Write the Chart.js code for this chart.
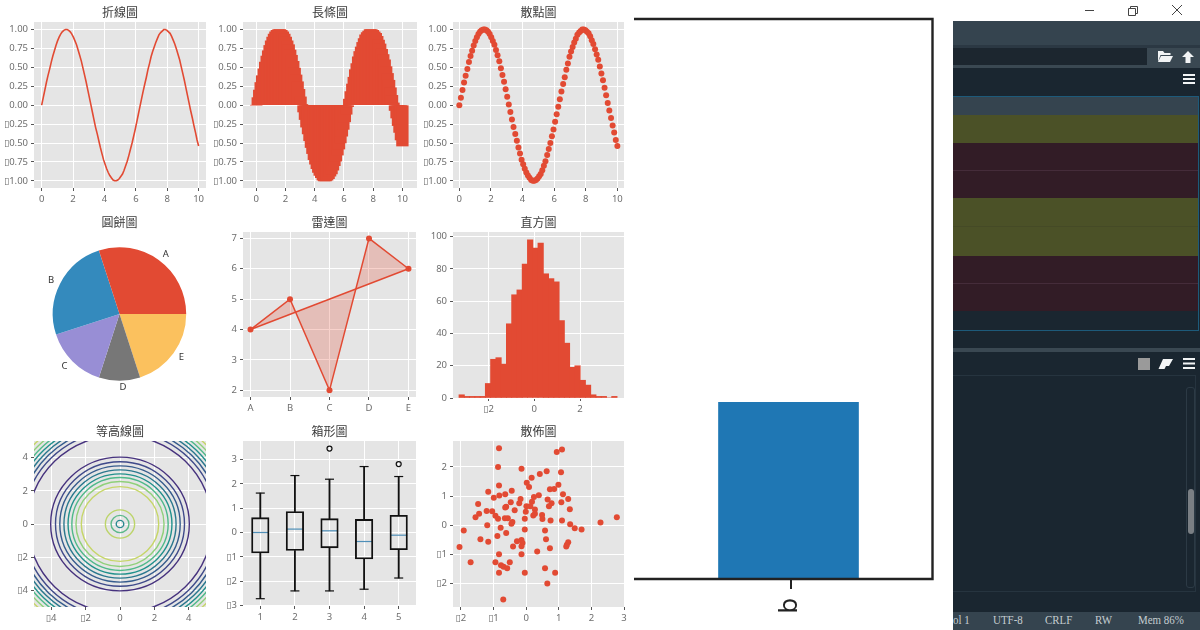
<!DOCTYPE html>
<html>
<head>
<meta charset="utf-8">
<title>matplotlib 圖表</title>
<script src="https://cdn.jsdelivr.net/npm/chart.js@4"></script>
<style>
html, body { margin: 0; padding: 0; background: #fff; overflow: hidden; }
#page { position: relative; width: 1200px; height: 630px; overflow: hidden; }
canvas { position: absolute; }
.r { position: absolute; }
.s { position: absolute; top: 612px; font: 13px "Liberation Serif", serif; color: #c4ccd0; white-space: nowrap; transform: scaleX(0.84); transform-origin: left center; }
svg { position: absolute; }
</style>
</head>
<body>
<div id="page">
  <!-- the editor window on the right -->
  <div class="r" style="left:953px;top:21px;width:247px;height:609px;background:#1a2630"></div>
  <div class="r" style="left:953px;top:21px;width:247px;height:24px;background:#35444f"></div>
  <div class="r" style="left:953px;top:45px;width:247px;height:3px;background:#2b3843"></div>
  <div class="r" style="left:953px;top:48px;width:194px;height:17px;background:#1c262f"></div>
  <div class="r" style="left:1147px;top:48px;width:53px;height:17px;background:#3a4852"></div>
  <div class="r" style="left:953px;top:65px;width:247px;height:3px;background:#3a4852"></div>
  <div class="r" style="left:953px;top:96px;width:246px;height:235px;border-right:1px solid #1d5a7a;border-top:1px solid #1d5a7a;border-bottom:1px solid #1d5a7a;box-sizing:border-box"></div>
  <div class="r" style="left:953px;top:97px;width:245px;height:18px;background:#35444f"></div>
  <div class="r" style="left:953px;top:115px;width:245px;height:28px;background:#4b5127"></div>
  <div class="r" style="left:953px;top:143px;width:245px;height:55px;background:#321c26"></div>
  <div class="r" style="left:953px;top:170px;width:245px;height:1px;background:#452c3a"></div>
  <div class="r" style="left:953px;top:198px;width:245px;height:58px;background:#4b5127"></div>
  <div class="r" style="left:953px;top:226px;width:245px;height:1px;background:#454a26"></div>
  <div class="r" style="left:953px;top:256px;width:245px;height:55px;background:#321c26"></div>
  <div class="r" style="left:953px;top:283px;width:245px;height:1px;background:#452c3a"></div>
  <div class="r" style="left:953px;top:348px;width:247px;height:4px;background:#3a4852"></div>
  <div class="r" style="left:953px;top:375px;width:243px;height:217px;border-top:1px solid #26343f;border-bottom:1px solid #26343f;border-right:1px solid #26343f;box-sizing:border-box"></div>
  <div class="r" style="left:1186px;top:387px;width:9px;height:201px;border:1px solid #2c3a45;border-radius:3px;box-sizing:border-box"></div>
  <div class="r" style="left:1188px;top:489px;width:6px;height:45px;background:#7a7f84;border-radius:3px"></div>
  <div class="r" style="left:1138px;top:358px;width:12px;height:12px;background:#9a9a9a"></div>
  <div class="r" style="left:953px;top:612px;width:247px;height:18px;background:#35444f"></div>
  <span class="s" style="left:953px">ol 1</span>
  <span class="s" style="left:993px">UTF-8</span>
  <span class="s" style="left:1045px">CRLF</span>
  <span class="s" style="left:1095px">RW</span>
  <span class="s" style="left:1138px">Mem 86%</span>
  <!-- window buttons and toolbar icons -->
  <svg width="1200" height="630" style="left:0;top:0">
    <g stroke="#444" stroke-width="1" fill="none">
      <path d="M1085 10.5H1094"/>
      <path d="M1128.5 8.5h7v7h-7z"/><path d="M1130.5 8.5v-2h7v7h-2"/>
      <path d="M1172 5l10 10M1182 5l-10 10"/>
    </g>
    <g fill="#f2f4f5">
      <path d="M1158 51h5l1.5 2h6v2h-10l-2.5 7z"/><path d="M1161 56h12l-3 6h-12z"/>
      <path d="M1188 51l6 6h-3.5v6h-5v-6h-3.500z"/>
      <path d="M1183 74h12v2h-12zM1183 78h12v2h-12zM1183 82h12v2h-12z"/>
      <path d="M1183 358h12v2h-12zM1183 362.500h12v2h-12zM1183 367h12v2h-12z"/>
      <path d="M1163 359h10l-4 7h-3l-1.500 3h-6z"/>
    </g>
  </svg>
</div>

<script>
// Sine panels
const sineX = [0,0.10,0.20,0.30,0.40,0.51,0.61,0.71,0.81,0.91,1.01,1.11,1.21,1.31,1.41,1.52,1.62,1.72,1.82,1.92,2.02,2.12,2.22,2.32,2.42,2.53,2.63,2.73,2.83,2.93,3.03,3.13,3.23,3.33,3.43,3.54,3.64,3.74,3.84,3.94,4.04,4.14,4.24,4.34,4.44,4.55,4.65,4.75,4.85,4.95,5.05,5.15,5.25,5.35,5.45,5.56,5.66,5.76,5.86,5.96,6.06,6.16,6.26,6.36,6.46,6.57,6.67,6.77,6.87,6.97,7.07,7.17,7.27,7.37,7.47,7.58,7.68,7.78,7.88,7.98,8.08,8.18,8.28,8.38,8.48,8.59,8.69,8.79,8.89,8.99,9.09,9.19,9.29,9.39,9.49,9.60,9.70,9.80,9.90,10];
const sineY = [0,0.10,0.20,0.30,0.39,0.48,0.57,0.65,0.72,0.79,0.85,0.90,0.94,0.97,0.99,1.00,1.00,0.99,0.97,0.94,0.90,0.85,0.80,0.73,0.66,0.58,0.49,0.40,0.31,0.21,0.11,0.01,-0.09,-0.19,-0.29,-0.38,-0.47,-0.56,-0.64,-0.72,-0.78,-0.84,-0.89,-0.93,-0.96,-0.99,-1.00,-1.00,-0.99,-0.97,-0.94,-0.91,-0.86,-0.80,-0.74,-0.66,-0.58,-0.50,-0.41,-0.32,-0.22,-0.12,-0.02,0.08,0.18,0.28,0.37,0.47,0.55,0.64,0.71,0.77,0.83,0.88,0.93,0.96,0.98,1.00,1.00,0.99,0.97,0.95,0.91,0.86,0.81,0.74,0.67,0.60,0.51,0.42,0.33,0.23,0.13,0.03,-0.07,-0.17,-0.27,-0.36,-0.46,-0.54];
const sineXTicks = [0,2,4,6,8,10];
const sineYTicks = [-1,-0.75,-0.5,-0.25,0,0.25,0.5,0.75,1];

// Pie, listed clockwise from the east
const pieLabels = ['E','D','C','B','A'];
const pieValues = [20,10,15,25,30];

// "Radar" panel
const radarLabels = ['A','B','C','D','E'];
const radarX = [0,1,2,3,4];
const radarY = [4,5,2,7,6];
const radarYTicks = [2,3,4,5,6,7];

// Histogram
const histCenters = [-3.17,-2.94,-2.71,-2.48,-2.25,-2.02,-1.79,-1.56,-1.33,-1.10,-0.87,-0.64,-0.41,-0.18,0.05,0.28,0.51,0.74,0.97,1.20,1.43,1.66,1.89,2.12,2.35,2.58,2.81,3.04,3.27,3.50];
const histCounts = [2,1,1,1,1,9,24,25,21,46,64,67,83,98,93,96,77,74,72,48,34,19,20,11,8,2,1,1,0,1];
const histXTicks = [-2,0,2];
const histYTicks = [0,20,40,60,80,100];

// Contour rings, radius of each ring on the x axis
const contourRadii = [0.22,0.52,0.85,2.25,2.56,2.8,3.02,3.26,3.5,3.75,4.03,5.36,5.64,5.87,6.08,6.28,6.48,6.69,6.92];
const contourXTicks = [-4,-2,0,2,4];

// Box plot
const boxX = [1,2,3,4,5];
const boxLow = [-2.72,-2.40,-2.40,-2.33,-1.87];
const boxQ1 = [-0.84,-0.74,-0.63,-1.09,-0.71];
const boxMedian = [0,0.14,0.07,-0.37,-0.11];
const boxQ3 = [0.61,0.86,0.57,0.54,0.71];
const boxHigh = [1.62,2.34,2.19,2.71,2.30];
const boxOutlierX = [3,5];
const boxOutlierY = [3.45,2.81];
const boxYTicks = [-3,-2,-1,0,1,2,3];

// Scatter
const scatterX = [-0.83,1.10,0.94,-0.86,-0.14,1.07,0.63,0.42,0.17,0.02,0.99,0.09,-0.83,0.73,0.86,-1.16,-0.44,1.13,1.29,-0.82,-0.64,0.39,0.24,-0.99,-0.17,1.08,0.66,0.18,-0.47,-0.21,-1.47,0.78,0.70,-0.61,-0.64,0.01,0.13,-1.21,-1.04,-0.35,0.27,1.34,-1.44,-0.01,-1.55,0.27,0.22,-0.94,-0.86,0.49,-0.65,-0.56,-0.04,0.50,-0.42,-0.45,0.75,1.10,-1.19,1.35,1.49,1.70,2.28,2.78,-0.78,-0.04,-1.91,0.58,-0.61,-0.88,-1.40,-1.16,0.61,-0.28,-0.14,-0.11,1.29,1.25,-0.14,-0.40,-2.04,0.73,1.23,0.34,-0.83,-0.14,-1.70,-0.94,-0.50,-0.77,-0.69,-0.58,0.58,-0.83,-0.04,0.89,0.65,-0.70];
const scatterY = [2.64,2.60,2.51,2.00,1.94,1.82,1.85,1.76,1.63,1.46,1.39,1.31,1.36,1.23,1.24,1.15,1.18,1.06,0.90,1.02,1.06,1.03,0.97,0.94,0.90,0.79,0.88,0.80,0.79,0.75,0.73,0.75,0.65,0.63,0.61,0.65,0.65,0.49,0.48,0.51,0.54,0.55,0.39,0.46,0.27,0.39,0.33,0.32,0.22,0.35,0.24,0.24,0.22,0.21,0.11,0.05,0.16,0.16,0,0.03,-0.11,-0.15,0.09,0.27,-0.09,-0.15,-0.18,-0.18,-0.27,-0.37,-0.48,-0.57,-0.48,-0.55,-0.51,-0.61,-0.59,-0.67,-0.72,-0.73,-0.75,-0.79,-0.73,-0.90,-1.00,-1.00,-1.27,-1.27,-1.27,-1.38,-1.43,-1.48,-1.48,-1.63,-1.63,-1.63,-2.00,-2.55];
const scatterXTicks = [-2,-1,0,1,2,3];
const scatterYTicks = [-2,-1,0,1,2];

// Cropped bar chart
const barLabels = ['b'];
const barTicks = [1];
const barX = [0.986];
const barValues = [2.01];

// Colours
const RED = '#E24A33';
const pieColors = ['#FBC15E','#777777','#988ED5','#348ABD','#E24A33'];
const contourColors = ['#2a8a90','#5cb98a','#bcd46a','#c6d668','#8fd07a','#4fb98a','#21918c','#2a788e','#365c8d','#3f4a8a','#46327e','#46327e','#3f4a8a','#365c8d','#2a788e','#21918c','#4fb98a','#8fd07a','#c6d668'];
const TICK_COLOR = '#6e6e6e';
const TICK_FONT = { family: '"Noto Sans", "DejaVu Sans"', size: 9.5 };
const TITLE_FONT = { family: '"Noto Sans CJK TC"', size: 12, weight: 'normal', lineHeight: 1.2 };

const LEFT_GUTTER = 34, TOP_GUTTER = 22, BOTTOM_GUTTER = 22, RIGHT_GUTTER = 6;

// the missing minus sign shows up as an empty box in the original
const plain = v => (v < 0 ? '\u25af' : '') + Math.abs(v);
const twoDecimals = v => (v < 0 ? '\u25af' : '') + Math.abs(v).toFixed(2);

function axis(min, max, tickValues, format, fit) {
    return {
        type: 'linear', min, max, offset: false,
        afterBuildTicks: s => { s.ticks = tickValues.map(v => ({ value: v })); },
        afterFit: fit,
        ticks: { autoSkip: false, minRotation: 0, maxRotation: 0, padding: 3, color: TICK_COLOR, font: TICK_FONT, callback: format },
        grid: { offset: false, color: '#ffffff', lineWidth: 1, tickColor: '#555555', tickLength: 3 },
        border: { display: false },
    };
}
const xAxis = (min, max, t, f) => axis(min, max, t, f || plain, s => { s.height = BOTTOM_GUTTER; });
const yAxis = (min, max, t, f) => axis(min, max, t, f || plain, s => { s.width = LEFT_GUTTER; });

const plotBackground = {
    id: 'plotBackground',
    beforeDraw(chart) {
        const a = chart.chartArea;
        chart.ctx.fillStyle = '#E5E5E5';
        chart.ctx.fillRect(a.left, a.top, a.width, a.height);
    },
};

function addCanvas(left, top, width, height) {
    const canvas = document.createElement('canvas');
    canvas.width = width;
    canvas.height = height;
    canvas.style.left = left + 'px';
    canvas.style.top = top + 'px';
    document.getElementById('page').appendChild(canvas);
    return canvas.getContext('2d');
}

function titleOptions(text) {
    return { display: true, text, color: '#3a3a3a', font: TITLE_FONT, fullSize: false, padding: { top: 5, bottom: 2.6 } };
}

// plot is [left, top, right, bottom] of the grey area on the page
function panel(title, plot, config, extraPlugins) {
    const [l, t, r, b] = plot;
    const ctx = addCanvas(l - LEFT_GUTTER, t - TOP_GUTTER, r - l + LEFT_GUTTER + RIGHT_GUTTER, b - t + TOP_GUTTER + BOTTOM_GUTTER);
    config.options = Object.assign({
        responsive: false,
        animation: false,
        devicePixelRatio: 1,
        layout: { autoPadding: false, padding: { right: RIGHT_GUTTER } },
        plugins: { legend: { display: false }, tooltip: { enabled: false }, title: titleOptions(title) },
    }, config.options);
    config.plugins = [plotBackground].concat(extraPlugins || []);
    return new Chart(ctx, config);
}

const pairs = (xs, ys) => xs.map((x, i) => ({ x, y: ys[i] }));

// 折線圖
panel('折線圖', [34, 22, 206, 188.5], {
    type: 'line',
    data: { datasets: [{ data: pairs(sineX, sineY), borderColor: RED, borderWidth: 1.6, pointRadius: 0 }] },
    options: { scales: { x: xAxis(-0.49, 10.47, sineXTicks), y: yAxis(-1.095, 1.1, sineYTicks, twoDecimals) } },
});

// 長條圖
panel('長條圖', [243, 22, 417, 188.5], {
    type: 'bar',
    data: { datasets: [{ data: pairs(sineX, sineY), backgroundColor: RED, barThickness: 11.7 }] },
    options: { scales: { x: xAxis(-0.91, 11, sineXTicks), y: yAxis(-1.095, 1.1, sineYTicks, twoDecimals) } },
});

// 散點圖
panel('散點圖', [453, 22, 624, 188.5], {
    type: 'line',
    data: { datasets: [{ data: pairs(sineX, sineY), showLine: false, pointRadius: 3, pointBackgroundColor: RED, pointBorderWidth: 0 }] },
    options: { scales: { x: xAxis(-0.4, 10.42, sineXTicks), y: yAxis(-1.095, 1.1, sineYTicks, twoDecimals) } },
});

// 圓餅圖
const pieLabelPlugin = {
    id: 'pieLabels',
    afterDatasetsDraw(chart) {
        const ctx = chart.ctx;
        ctx.save();
        ctx.font = '9.5px "Noto Sans"';
        ctx.fillStyle = '#333';
        ctx.textBaseline = 'middle';
        chart.getDatasetMeta(0).data.forEach((arc, i) => {
            const mid = (arc.startAngle + arc.endAngle) / 2;
            const dist = arc.outerRadius * 1.1;
            ctx.textAlign = Math.cos(mid) >= 0 ? 'left' : 'right';
            ctx.fillText(pieLabels[i], arc.x + dist * Math.cos(mid), arc.y + dist * Math.sin(mid));
        });
        ctx.restore();
    },
};
new Chart(addCanvas(0, 210, 239, 186), {
    type: 'doughnut',
    data: { labels: pieLabels, datasets: [{ data: pieValues, backgroundColor: pieColors, borderWidth: 0 }] },
    options: {
        responsive: false, animation: false, devicePixelRatio: 1,
        cutout: 0, rotation: 90, radius: 66.7,
        plugins: { legend: { display: false }, tooltip: { enabled: false }, title: titleOptions('圓餅圖') },
    },
    plugins: [pieLabelPlugin],
});

// 雷達圖
panel('雷達圖', [243, 232, 416, 397.5], {
    type: 'line',
    data: {
        datasets: [
            { data: pairs(radarX, radarY), borderColor: RED, borderWidth: 1.5, pointRadius: 3, pointBackgroundColor: RED, pointBorderWidth: 0, fill: '+1', backgroundColor: 'rgba(226,74,51,0.25)' },
            // the closing edge, from the last point back to the first
            { data: pairs([radarX[0], radarX[4]], [radarY[0], radarY[4]]), borderColor: RED, borderWidth: 1.5, pointRadius: 0 },
        ],
    },
    options: { scales: { x: xAxis(-0.19, 4.19, radarX, v => radarLabels[v]), y: yAxis(1.78, 7.21, radarYTicks) } },
});

// 直方圖
panel('直方圖', [453, 232, 624, 398], {
    type: 'bar',
    data: { datasets: [{ data: pairs(histCenters, histCounts), backgroundColor: RED, barThickness: 5.5 }] },
    options: { scales: { x: xAxis(-3.55, 3.92, histXTicks), y: yAxis(0, 102.9, histYTicks) } },
});

// 等高線圖
const contourPlugin = {
    id: 'contourRings',
    afterDatasetsDraw(chart) {
        const { ctx, chartArea: a, scales: { x, y } } = chart;
        const cx = x.getPixelForValue(0), cy = y.getPixelForValue(0);
        ctx.save();
        ctx.beginPath();
        ctx.rect(a.left, a.top, a.width, a.height);
        ctx.clip();
        ctx.lineWidth = 1.4;
        chart.data.datasets[0].data.forEach((ring, i) => {
            ctx.strokeStyle = contourColors[i];
            ctx.beginPath();
            ctx.ellipse(cx, cy, x.getPixelForValue(ring.x) - cx, cy - y.getPixelForValue(ring.x), 0, 0, Math.PI * 2);
            ctx.stroke();
        });
        ctx.restore();
    },
};
panel('等高線圖', [34, 441, 206, 607], {
    type: 'line',
    data: { datasets: [{ data: contourRadii.map(r => ({ x: r, y: 0 })), showLine: false, pointRadius: 0 }] },
    options: { scales: { x: xAxis(-5, 5, contourXTicks), y: yAxis(-5, 5, contourXTicks) } },
}, [contourPlugin]);

// 箱形圖
const floatBar = (lo, hi, width, color, fill) => ({
    type: 'bar',
    data: boxX.map((x, i) => ({ x, y: [lo[i], hi[i]] })),
    grouped: false,
    barThickness: width, maxBarThickness: width,
    borderSkipped: false,
    backgroundColor: fill,
    borderColor: color,
    borderWidth: fill === 'transparent' ? 1.2 : 0,
});
const boxMarks = (xs, ys, radius, color, style) => ({
    type: 'line',
    data: pairs(xs, ys),
    showLine: false,
    pointStyle: style,
    pointRadius: radius,
    pointBackgroundColor: 'transparent',
    pointBorderColor: color,
    pointBorderWidth: 1.2,
});
panel('箱形圖', [243, 441, 416, 606], {
    data: {
        datasets: [
            floatBar(boxLow, boxQ1, 1.2, '#111', '#111'),
            floatBar(boxQ3, boxHigh, 1.2, '#111', '#111'),
            floatBar(boxQ1, boxQ3, 17.5, '#111', 'transparent'),
            boxMarks(boxX, boxLow, 4.5, '#111', 'line'),
            boxMarks(boxX, boxHigh, 4.5, '#111', 'line'),
            boxMarks(boxX, boxMedian, 8.5, '#4f8fb8', 'line'),
            boxMarks(boxOutlierX, boxOutlierY, 2.5, '#111', 'circle'),
        ],
    },
    options: { scales: { x: xAxis(0.5, 5.5, boxX), y: yAxis(-3.02, 3.76, boxYTicks) } },
});

// 散佈圖
panel('散佈圖', [453, 441, 624, 607], {
    type: 'line',
    data: { datasets: [{ data: pairs(scatterX, scatterY), showLine: false, pointRadius: 3, pointBackgroundColor: RED, pointBorderWidth: 0 }] },
    options: { scales: { x: xAxis(-2.24, 3, scatterXTicks), y: yAxis(-2.81, 2.89, scatterYTicks) } },
});

// Cropped bar chart in the middle, its left side is cut off
const framePlugin = {
    id: 'openFrame',
    afterDraw(chart) {
        const { ctx, chartArea: a } = chart;
        ctx.save();
        ctx.strokeStyle = '#222';
        ctx.lineWidth = 2.4;
        ctx.beginPath();
        ctx.moveTo(a.left, a.top);
        ctx.lineTo(a.right, a.top);
        ctx.lineTo(a.right, a.bottom);
        ctx.lineTo(a.left, a.bottom);
        ctx.stroke();
        ctx.restore();
    },
};
new Chart(addCanvas(634, 0, 316, 630), {
    type: 'bar',
    data: { datasets: [{ data: pairs(barX, barValues), backgroundColor: '#1f77b4', barThickness: 140 }] },
    options: {
        responsive: false, animation: false, devicePixelRatio: 1,
        layout: { autoPadding: false, padding: { top: 19, right: 17.5 } },
        plugins: { legend: { display: false }, tooltip: { enabled: false } },
        scales: {
            x: {
                type: 'linear', min: 0.103, max: 1.809, offset: false,
                afterBuildTicks: s => { s.ticks = barTicks.map(v => ({ value: v })); },
                afterFit: s => { s.height = 51; },
                ticks: { autoSkip: false, minRotation: 90, maxRotation: 90, padding: 9, color: '#222', font: { family: '"DejaVu Sans"', size: 25 }, callback: (v, i) => barLabels[i] },
                grid: { offset: false, drawOnChartArea: false, color: '#222', lineWidth: 2, tickLength: 10 },
                border: { display: false },
            },
            y: { display: false, min: 0, max: 6.37 },
        },
    },
    plugins: [framePlugin],
});
</script>
</body>
</html>
